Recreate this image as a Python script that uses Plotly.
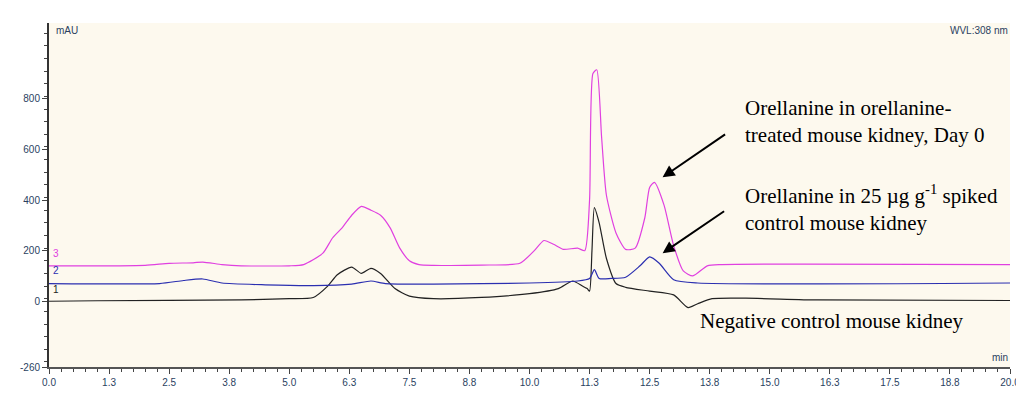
import plotly.graph_objects as go

t3 = [0, 2.0, 2.5, 3.0, 3.2, 3.6, 4.0, 5.0, 5.3, 5.7, 5.9, 6.1, 6.3, 6.5, 6.7, 6.9, 7.1, 7.3, 7.5, 7.7, 8.0, 9.0, 9.8, 10.1, 10.3, 10.5, 10.7, 11.0, 11.15, 11.25, 11.32, 11.4, 11.5, 11.6, 11.8, 12.0, 12.2, 12.4, 12.5, 12.6, 12.8, 13.0, 13.2, 13.4, 13.7, 14.0, 20.0]
y3 = [140, 142, 150, 152, 155, 145, 140, 140, 145, 190, 250, 290, 340, 375, 360, 340, 290, 210, 160, 145, 142, 143, 150, 200, 240, 225, 205, 210, 200, 400, 900, 915, 650, 420, 270, 205, 210, 330, 450, 470, 380, 220, 120, 100, 140, 145, 145]
t2 = [0, 2.3, 2.8, 3.2, 3.6, 4.5, 5.5, 6.3, 6.7, 7.0, 8.0, 10.0, 11.0, 11.25, 11.35, 11.45, 11.7, 12.0, 12.3, 12.5, 12.7, 13.0, 13.5, 20.0]
y2 = [70, 70, 82, 88, 72, 65, 62, 68, 80, 70, 68, 72, 80, 90, 125, 90, 90, 95, 140, 175, 150, 85, 72, 72]
t1 = [0, 1.0, 4.0, 5.0, 5.5, 5.8, 6.0, 6.3, 6.5, 6.7, 6.9, 7.2, 7.5, 8.0, 9.0, 10.0, 10.6, 10.9, 11.1, 11.2, 11.25, 11.3, 11.35, 11.45, 11.6, 11.8, 12.0, 12.5, 13.0, 13.3, 13.5, 13.8, 14.5, 16.0, 20.0]
y1 = [0, 2, 5, 10, 15, 60, 105, 135, 110, 130, 110, 50, 20, 10, 15, 30, 50, 80, 60, 50, 40, 200, 370, 310, 170, 70, 55, 40, 25, -25, -10, 10, 12, 5, 3]

fig = go.Figure()
fig.add_trace(go.Scatter(x=t1, y=y1, mode="lines", line=dict(color="#222222", width=1.2, shape="spline", smoothing=0.6)))
fig.add_trace(go.Scatter(x=t2, y=y2, mode="lines", line=dict(color="#2b2fb0", width=1.2, shape="spline", smoothing=0.6)))
fig.add_trace(go.Scatter(x=t3, y=y3, mode="lines", line=dict(color="#e040e0", width=1.2, shape="spline", smoothing=0.6)))

serif = "Liberation Serif, Times New Roman, serif"
ann = []
for lab, yy, c in [("3", 160, "#e040e0"), ("2", 90, "#2b2fb0"), ("1", 18, "#222222")]:
    ann.append(dict(x=0.05, y=yy, text=lab, showarrow=False, xanchor="left", yanchor="bottom",
                    font=dict(size=10, color=c, family="Arial")))
ann += [
    dict(xref="paper", yref="paper", x=0.005, y=1.0, text="mAU", showarrow=False, xanchor="left", yanchor="top", font=dict(size=10, family="Arial")),
    dict(xref="paper", yref="paper", x=1.0, y=1.0, text="WVL:308 nm", showarrow=False, xanchor="right", yanchor="top", font=dict(size=10, family="Arial")),
    dict(xref="paper", yref="paper", x=1.0, y=0.005, text="min", showarrow=False, xanchor="right", yanchor="bottom", font=dict(size=10, family="Arial")),
    dict(x=12.77, y=490, ax=64, ay=-44, text="", showarrow=True, arrowhead=2, arrowsize=1.2, arrowwidth=2, arrowcolor="black"),
    dict(x=12.77, y=190, ax=63, ay=-43, text="", showarrow=True, arrowhead=2, arrowsize=1.2, arrowwidth=2, arrowcolor="black"),
    dict(x=14.45, y=710, text="Orellanine in orellanine-<br>treated mouse kidney, Day 0", showarrow=False, xanchor="left", yanchor="middle", align="left", font=dict(size=21, family=serif, color="black")),
    dict(x=14.45, y=370, text="Orellanine in 25 µg g<sup>-1</sup> spiked<br>control mouse kidney", showarrow=False, xanchor="left", yanchor="middle", align="left", font=dict(size=21, family=serif, color="black")),
    dict(x=13.5, y=-80, text="Negative control mouse kidney", showarrow=False, xanchor="left", yanchor="middle", font=dict(size=21, family=serif, color="black")),
]

tickvals = [i * 1.25 for i in range(17)]
ticktext = ["0.0", "1.3", "2.5", "3.8", "5.0", "6.3", "7.5", "8.8", "10.0", "11.3", "12.5", "13.8", "15.0", "16.3", "17.5", "18.8", "20.0"]
fig.update_layout(
    width=1024, height=409, showlegend=False,
    margin=dict(l=40, r=20, t=15, b=50),
    paper_bgcolor="white", plot_bgcolor="#fdf9ee",
    annotations=ann,
    xaxis=dict(range=[0, 20], tickvals=tickvals, ticktext=ticktext, ticks="outside", ticklen=5,
               showgrid=False, zeroline=False, showline=True, linecolor="#555", linewidth=1.5,
               tickfont=dict(size=10, family="Arial"), minor=dict(ticks="outside", ticklen=3, dtick=0.25)),
    yaxis=dict(range=[-260, 1100], tickvals=[-260, 0, 200, 400, 600, 800], ticktext=["-260", "0", "200", "400", "600", "800"],
               ticks="outside", ticklen=5, showgrid=False, zeroline=False, showline=True, linecolor="#333", linewidth=2,
               tickfont=dict(size=10, family="Arial"), minor=dict(ticks="outside", ticklen=3, tickvals=list(range(-240, 1100, 50)))),
)
fig.write_html("out.html")
